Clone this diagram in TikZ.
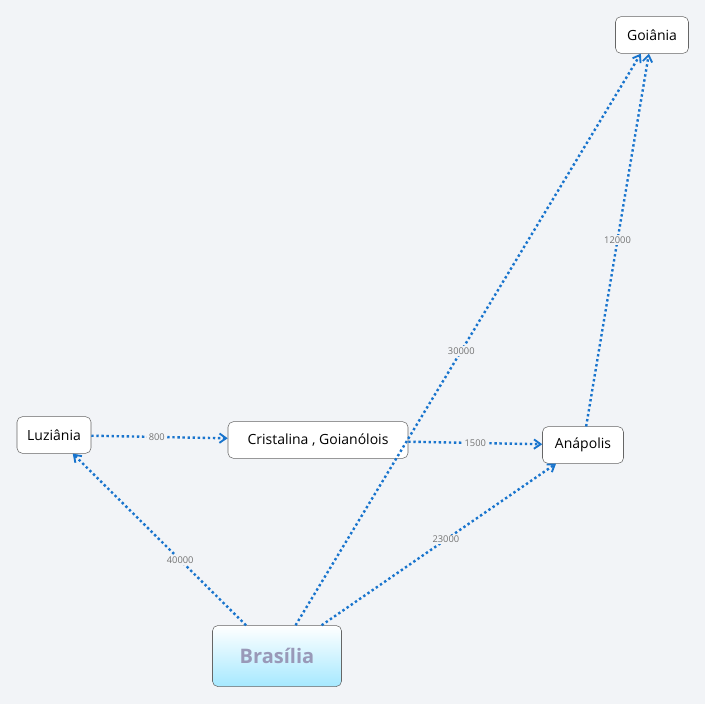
\documentclass[tikz,border=0pt]{standalone}
\usepackage{fontspec}
\setmainfont{Open Sans}
\usetikzlibrary{arrows.meta}
\definecolor{bg}{HTML}{F2F4F7}
\definecolor{edge}{HTML}{1874CD}
\tikzset{
 city/.style={draw=black!60,fill=white,rounded corners=4pt,font=\fontsize{10.5}{12}\selectfont,minimum height=27.5pt,inner xsep=4pt},
 link/.style={draw=edge,line width=1.8pt,dotted,-{Straight Barb[length=5pt,width=7pt,line width=1.4pt]}},
 lab/.style={fill=bg,text=black!55,font=\fontsize{7}{8}\selectfont,inner sep=1pt}
}
\begin{document}
\begin{tikzpicture}[x=0.75pt,y=-0.75pt]
\fill[bg] (0,0) rectangle (705,704);
\useasboundingbox (0,0) rectangle (705,704);
\node[city,minimum width=54.75pt] (g) at (652,35) {Goiânia};
\node[city,minimum width=55.5pt] (l) at (54,435) {Luziânia};
\node[city,minimum width=135pt] (c) at (318,440) {Cristalina , Goianólois};
\node[city,minimum width=60.75pt] (a) at (583,445) {Anápolis};
\node[draw=black!60,rounded corners=4pt,top color=white,bottom color=blue!25!cyan!35,minimum width=96.75pt,minimum height=45.75pt,font=\bfseries\fontsize{15}{18}\selectfont,text=black!70!blue!40] (b) at (277,656) {Brasília};
\draw[link] (b) -- node[lab,pos=0.38]{40000} (l);
\draw[link] (b) -- node[lab,pos=0.48]{30000} (g);
\draw[link] (b) -- node[lab,pos=0.53]{23000} (a);
\draw[link] (l) -- node[lab,pos=0.48]{800} (c);
\draw[link] (c) -- node[lab,pos=0.5]{1500} (a);
\draw[link] (a) -- node[lab,pos=0.5]{12000} (g);
\end{tikzpicture}
\end{document}
